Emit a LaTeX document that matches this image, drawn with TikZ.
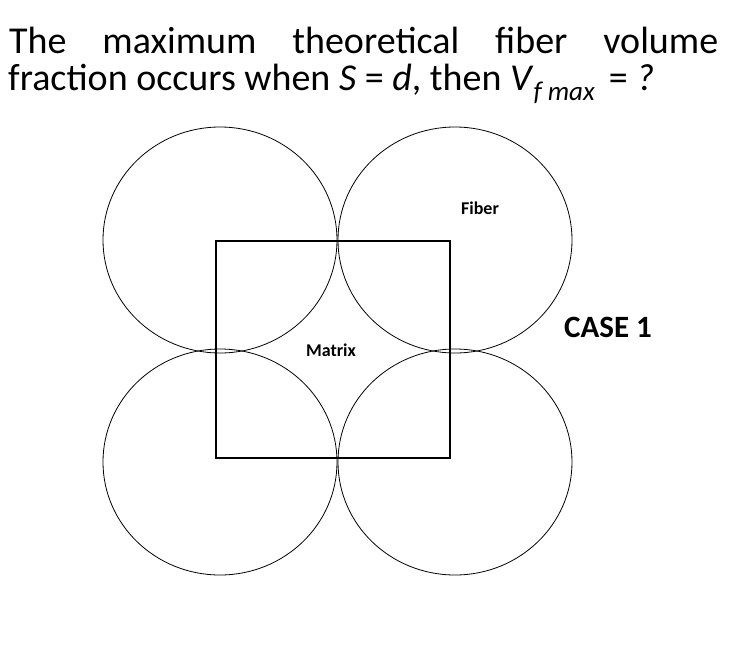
\documentclass[tikz,border=0pt]{standalone}
\usepackage{fontspec}
\setmainfont{Carlito}
\begin{document}
\begin{tikzpicture}[x=1pt,y=-1pt,
  lab/.style={font=\bfseries\fontsize{18}{20}\selectfont,inner sep=0pt}]
\useasboundingbox (0,0) rectangle (756,670);
\node[anchor=west,inner sep=0pt,font=\fontsize{38}{42}\selectfont] (l1) at (9,40) {\makebox[709pt][s]{The\hfill maximum\hfill theoretical\hfill fiber\hfill volume}};
\node[anchor=west,inner sep=0pt,font=\fontsize{38}{42}\selectfont] (l2) at (8,84) {fraction occurs when \textit{S} = \textit{d}, then \textit{V}\raisebox{-10pt}{\fontsize{27}{30}\selectfont\textit{f max}}\hspace{14pt}= \textit{?}};
\foreach \n/\x/\y in {a/220/240,b/455/240,c/220/462,d/455/462}
  \draw[line width=0.8pt] (\x,\y) ellipse[x radius=117, y radius=113];
\node[draw,line width=2pt,minimum width=234pt,minimum height=217pt,inner sep=0pt] (sq) at (332.5,349.5) {};
\node[lab] (fiber) at (480,208) {Fiber};
\node[lab] (matrix) at (331,350) {Matrix};
\node[font=\bfseries\fontsize{31}{34}\selectfont,inner sep=0pt] (case) at (608,327) {CASE 1};
\end{tikzpicture}
\end{document}
